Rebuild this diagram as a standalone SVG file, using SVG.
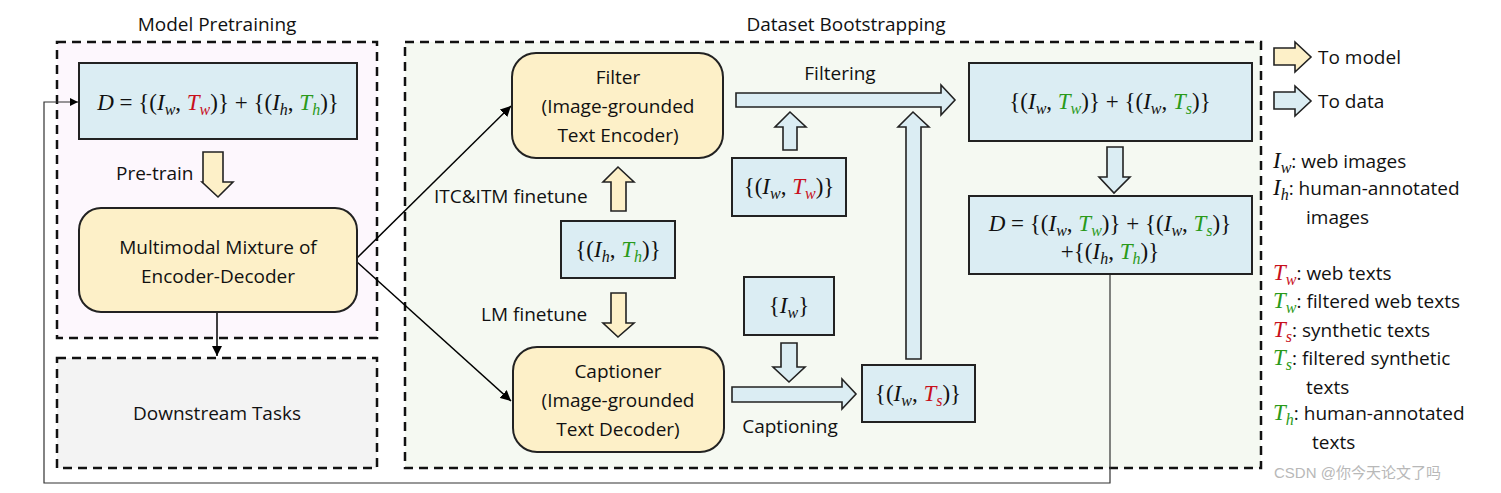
<svg xmlns="http://www.w3.org/2000/svg" width="1501" height="493" viewBox="0 0 1501 493">
<defs>
<marker id="ah" viewBox="0 0 10 10" refX="10" refY="5" markerWidth="7" markerHeight="7" orient="auto"><path d="M0,0 L10,5 L0,10 z" fill="#000"/></marker>
<style>
text{font-family:"Open Sans","Liberation Sans",sans-serif;font-size:19px;fill:#111}
.m{font-family:"Liberation Serif",serif;font-size:23px}
.v{font-style:italic}
.s{font-style:italic;font-size:16px}
.r{fill:#c8101c}
.g{fill:#2a9a1a}
.dash{stroke:#111;stroke-width:2.5;stroke-dasharray:9,6}
.blue{fill:#dbedf3;stroke:#222;stroke-width:2}
.node{fill:#fdf0c8;stroke:#222;stroke-width:2}
.ya{fill:#fdf0c8;stroke:#222;stroke-width:1.6}
.ba{fill:#dbedf3;stroke:#222;stroke-width:1.6}
.c{text-anchor:middle}
</style>
</defs>
<rect width="1501" height="493" fill="#fff"/>
<g id="regions">
<rect x="57" y="42" width="320" height="296" fill="#fdf7fd" class="dash"/>
<rect x="57" y="358" width="320" height="110" fill="#f3f3f3" class="dash"/>
<rect x="405" y="42" width="856" height="426" fill="#f5f9f2" class="dash"/>
<text x="217" y="31" class="c">Model Pretraining</text>
<text x="846" y="31" class="c">Dataset Bootstrapping</text>
<text x="217" y="420" class="c">Downstream Tasks</text>
</g>
<g id="connectors" fill="none" stroke="#000" stroke-width="1.5">
<line x1="357" y1="258" x2="511" y2="106" marker-end="url(#ah)"/>
<line x1="357" y1="262" x2="511" y2="401" marker-end="url(#ah)"/>
<line x1="217" y1="312" x2="217" y2="356" marker-end="url(#ah)"/>
<polyline points="1110,274 1110,483 44,483 44,102 78,102" stroke="#333" stroke-width="1.2" marker-end="url(#ah)"/>
</g>
<g id="block-arrows">
<polygon class="ya" points="203,152 223,152 223,182 233,182 218,197 202,182 203,182"/>
<polygon class="ya" points="611,211 626,211 626,182 634,182 618,167 603,182 611,182"/>
<polygon class="ya" points="611,293 626,293 626,323 634,323 618,337 603,323 611,323"/>
<polygon class="ba" points="736,93 941,93 941,85 955,100 941,115 941,107 736,107"/>
<polygon class="ba" points="783,150 797,150 797,127 806,127 790,112 775,127 783,127"/>
<polygon class="ba" points="781,343 797,343 797,367 805,367 789,382 773,367 781,367"/>
<polygon class="ba" points="732,387 842,387 842,379 856,394 842,409 842,402 732,402"/>
<polygon class="ba" points="906,359 921,359 921,127 929,127 913,112 898,127 906,127"/>
<polygon class="ba" points="1107,147 1123,147 1123,177 1130,177 1114,193 1099,177 1107,177"/>
</g>
<g id="labels">
<text x="116" y="180">Pre-train</text>
<text x="434" y="203">ITC&amp;ITM finetune</text>
<text x="481" y="321">LM finetune</text>
<text x="840" y="80" class="c">Filtering</text>
<text x="790" y="433" class="c">Captioning</text>
</g>
<g id="d-pretrain">
<rect x="79" y="63" width="278" height="76" class="blue"/>
<text x="218" y="110" class="m c"><tspan class="v">D</tspan> = {(<tspan class="v">I</tspan><tspan class="s" dy="5">w</tspan><tspan dy="-5">, </tspan><tspan class="v r">T</tspan><tspan class="s r" dy="5">w</tspan><tspan dy="-5">)} + {(</tspan><tspan class="v">I</tspan><tspan class="s" dy="5">h</tspan><tspan dy="-5">, </tspan><tspan class="v g">T</tspan><tspan class="s g" dy="5">h</tspan><tspan dy="-5">)}</tspan></text>
</g>
<g id="mmed">
<rect x="79" y="208" width="278" height="104" rx="22" class="node"/>
<text x="218" y="254" class="c">Multimodal Mixture of</text>
<text x="218" y="283" class="c">Encoder-Decoder</text>
</g>
<g id="filter">
<rect x="512" y="53" width="211" height="105" rx="24" class="node"/>
<text x="618" y="84" class="c">Filter</text>
<text x="618" y="113" class="c">(Image-grounded</text>
<text x="618" y="142" class="c">Text Encoder)</text>
</g>
<g id="captioner">
<rect x="513" y="347" width="211" height="105" rx="24" class="node"/>
<text x="618" y="378" class="c">Captioner</text>
<text x="618" y="407" class="c">(Image-grounded</text>
<text x="618" y="436" class="c">Text Decoder)</text>
</g>
<g id="ih-th">
<rect x="561" y="221" width="114" height="57" class="blue"/>
<text x="618" y="257" class="m c">{(<tspan class="v">I</tspan><tspan class="s" dy="5">h</tspan><tspan dy="-5">, </tspan><tspan class="v g">T</tspan><tspan class="s g" dy="5">h</tspan><tspan dy="-5">)}</tspan></text>
</g>
<g id="iw-tw">
<rect x="732" y="158" width="114" height="58" class="blue"/>
<text x="789" y="194" class="m c">{(<tspan class="v">I</tspan><tspan class="s" dy="5">w</tspan><tspan dy="-5">, </tspan><tspan class="v r">T</tspan><tspan class="s r" dy="5">w</tspan><tspan dy="-5">)}</tspan></text>
</g>
<g id="iw">
<rect x="744" y="277" width="90" height="58" class="blue"/>
<text x="789" y="313" class="m c">{<tspan class="v">I</tspan><tspan class="s" dy="5">w</tspan><tspan dy="-5">}</tspan></text>
</g>
<g id="iw-ts">
<rect x="862" y="365" width="113" height="57" class="blue"/>
<text x="918" y="401" class="m c">{(<tspan class="v">I</tspan><tspan class="s" dy="5">w</tspan><tspan dy="-5">, </tspan><tspan class="v r">T</tspan><tspan class="s r" dy="5">s</tspan><tspan dy="-5">)}</tspan></text>
</g>
<g id="filtered">
<rect x="969" y="63" width="283" height="78" class="blue"/>
<text x="1110" y="109" class="m c">{(<tspan class="v">I</tspan><tspan class="s" dy="5">w</tspan><tspan dy="-5">, </tspan><tspan class="v g">T</tspan><tspan class="s g" dy="5">w</tspan><tspan dy="-5">)} + {(</tspan><tspan class="v">I</tspan><tspan class="s" dy="5">w</tspan><tspan dy="-5">, </tspan><tspan class="v g">T</tspan><tspan class="s g" dy="5">s</tspan><tspan dy="-5">)}</tspan></text>
</g>
<g id="d-boot">
<rect x="969" y="196" width="283" height="78" class="blue"/>
<text x="1110" y="231" class="m c"><tspan class="v">D</tspan> = {(<tspan class="v">I</tspan><tspan class="s" dy="5">w</tspan><tspan dy="-5">, </tspan><tspan class="v g">T</tspan><tspan class="s g" dy="5">w</tspan><tspan dy="-5">)} + {(</tspan><tspan class="v">I</tspan><tspan class="s" dy="5">w</tspan><tspan dy="-5">, </tspan><tspan class="v g">T</tspan><tspan class="s g" dy="5">s</tspan><tspan dy="-5">)}</tspan></text>
<text x="1110" y="259" class="m c">+{(<tspan class="v">I</tspan><tspan class="s" dy="5">h</tspan><tspan dy="-5">, </tspan><tspan class="v g">T</tspan><tspan class="s g" dy="5">h</tspan><tspan dy="-5">)}</tspan></text>
</g>
<g id="legend">
<polygon class="ya" points="1274,48 1295,48 1295,42 1311,57 1295,72 1295,65 1274,65"/>
<text x="1318" y="64">To model</text>
<polygon class="ba" points="1274,92 1295,92 1295,86 1311,101 1295,116 1295,109 1274,109"/>
<text x="1318" y="108">To data</text>
<text x="1273" y="168"><tspan class="m v">I</tspan><tspan class="m s" dy="5">w</tspan><tspan dy="-5">: web images</tspan></text>
<text x="1273" y="195"><tspan class="m v">I</tspan><tspan class="m s" dy="5">h</tspan><tspan dy="-5">: human-annotated</tspan></text>
<text x="1306" y="224">images</text>
<text x="1273" y="280"><tspan class="m v r">T</tspan><tspan class="m s r" dy="5">w</tspan><tspan dy="-5">: web texts</tspan></text>
<text x="1273" y="308"><tspan class="m v g">T</tspan><tspan class="m s g" dy="5">w</tspan><tspan dy="-5">: filtered web texts</tspan></text>
<text x="1273" y="337"><tspan class="m v r">T</tspan><tspan class="m s r" dy="5">s</tspan><tspan dy="-5">: synthetic texts</tspan></text>
<text x="1273" y="365"><tspan class="m v g">T</tspan><tspan class="m s g" dy="5">s</tspan><tspan dy="-5">: filtered synthetic</tspan></text>
<text x="1306" y="394">texts</text>
<text x="1273" y="420"><tspan class="m v g">T</tspan><tspan class="m s g" dy="5">h</tspan><tspan dy="-5">: human-annotated</tspan></text>
<text x="1312" y="449">texts</text>
<text x="1274" y="478" style="font-size:15px;fill:#b8b8b8;font-family:'Liberation Sans','Noto Sans CJK SC',sans-serif">CSDN @你今天论文了吗</text>
</g>
</svg>
